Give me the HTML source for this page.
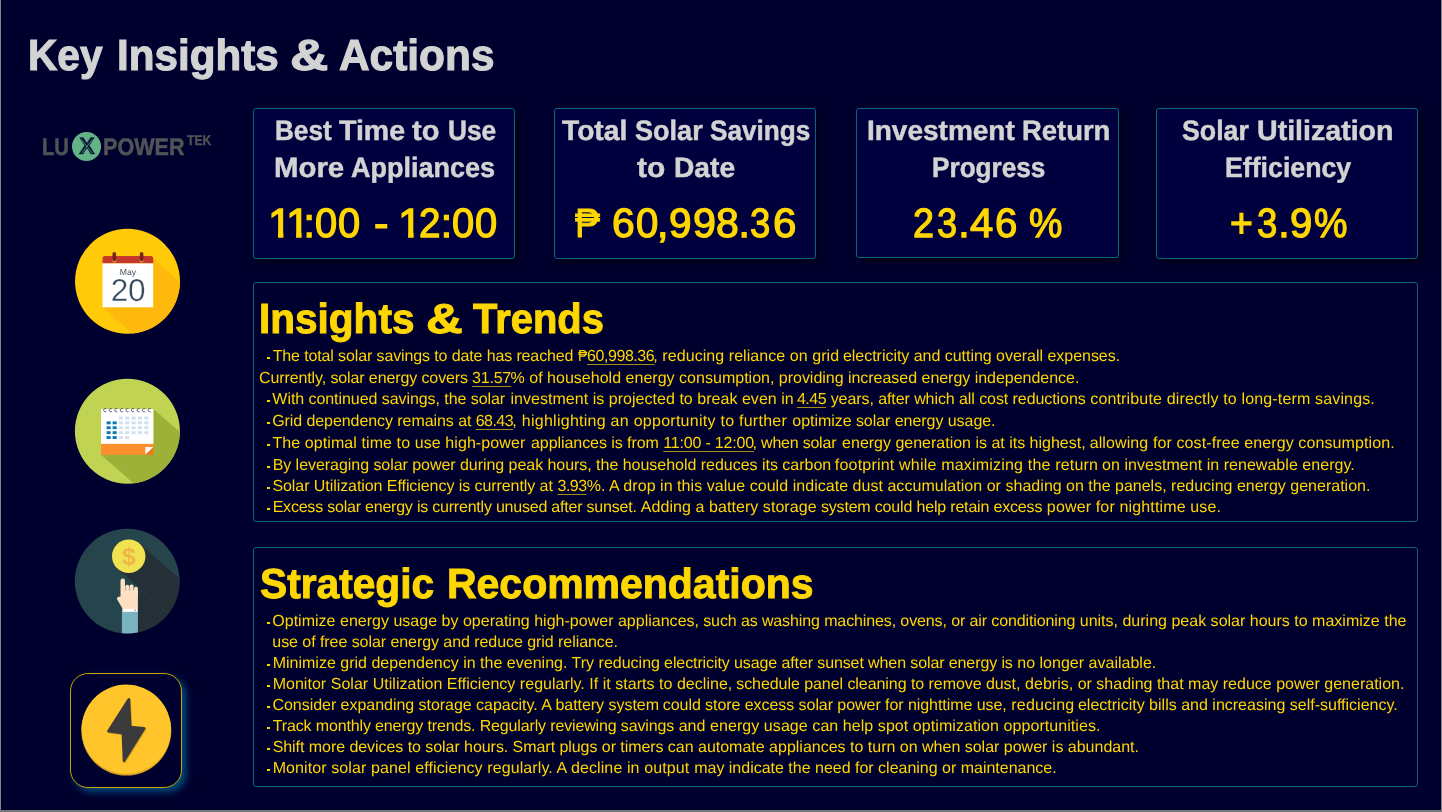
<!DOCTYPE html>
<html lang="en"><head><meta charset="utf-8"><title>Key Insights &amp; Actions</title>
<style>
html,body{margin:0;padding:0}
body{width:1442px;height:812px;overflow:hidden;background:#00002e;position:relative;font-family:"Liberation Sans","DejaVu Sans",sans-serif;text-rendering:geometricPrecision}
.edge{position:absolute;background:#848484}
.card{position:absolute;top:108px;box-sizing:border-box;border:1px solid #066877;border-radius:3px;background:#00003e;box-shadow:4px 4px 7px rgba(0,0,0,.5)}
.panel{position:absolute;left:253px;width:1165px;box-sizing:border-box;border:1px solid #066877;border-radius:3px;background:#00002e}
.t{position:absolute;left:0;margin:0;white-space:pre;font-weight:400}
.w span,.w u{position:absolute;top:0;transform-origin:0 0}
.t u{text-decoration:underline;text-decoration-color:#a68c16;text-decoration-thickness:1px;text-underline-offset:3px;text-decoration-skip-ink:none}
.lc{position:absolute;left:72.3px;top:131.8px;width:29.1px;height:29.1px;border-radius:50%;background:#62b487}
.b{position:absolute;width:3px;height:2px;background:#ffd700;left:267px}
svg{position:absolute;left:0;top:0;overflow:visible}
.ibox{position:absolute;left:70px;top:673px;width:112px;height:115px;box-sizing:border-box;border:1px solid #c9a300;border-radius:18px;background:#00002e;box-shadow:4px 4px 7px rgba(0,125,175,.6)}
.one{clip-path:polygon(0 0,14.67px 0,14.67px 100%,9.46px 100%,9.46px 70%,0 70%);}
.f0{font-size:43.5px;line-height:51px;color:#d3d3d3;font-weight:700;-webkit-text-stroke:1.1px #d3d3d3;}
.f1{font-size:28.05px;line-height:33px;color:#d3d3d3;font-weight:700;-webkit-text-stroke:0.5px #d3d3d3;}
.f2{font-size:40.8px;line-height:47px;color:#ffd700;-webkit-text-stroke:1.3px #ffd700;}
.f3{font-size:42px;line-height:49px;color:#ffd700;font-weight:700;-webkit-text-stroke:1px #ffd700;}
.f4{font-size:16px;line-height:19px;color:#ffd700;}
.f5{font-size:24px;line-height:28px;color:#505456;font-weight:700;-webkit-text-stroke:0.5px #505456;}
.f6{font-size:23.6px;line-height:28px;color:#0b1236;font-weight:700;-webkit-text-stroke:0.5px #0b1236;}
.f7{font-size:14.1px;line-height:17px;color:#505456;font-weight:700;-webkit-text-stroke:0.3px #505456;}
</style></head>
<body>
<div class="edge" style="left:0;top:0;width:1px;height:812px"></div>
<div class="edge" style="left:1441px;top:0;width:1px;height:812px"></div>
<div class="edge" style="left:0;top:810px;width:1442px;height:2px;background:linear-gradient(#808080,#707070)"></div>
<h1 class="t w f0" style="top:30px;transform:translateY(0.5px)"><span style="left:28.4px;transform:scaleX(0.9348)">Key</span> <span style="left:116.63px;transform:scaleX(0.9702)">Insights</span> <span style="left:290.13px;transform:scaleX(1.2193)">&amp;</span> <span style="left:339.46px;transform:scaleX(0.9748)">Actions</span></h1>
<div class="card" style="left:253px;width:262px;height:151px"></div>
<div class="card" style="left:554px;width:262px;height:151px"></div>
<div class="card" style="left:856px;width:263px;height:150px"></div>
<div class="card" style="left:1156px;width:262px;height:151px"></div>
<div class="t w f1" style="top:114px"><span style="left:274.86px;transform:scaleX(0.9314)">Best</span> <span style="left:339px;transform:scaleX(1.0162)">Time</span> <span style="left:412.3px;transform:scaleX(1.0365)">to</span> <span style="left:447.86px;transform:scaleX(0.9352)">Use</span></div>
<div class="t w f1" style="top:151px"><span style="left:274.42px;transform:scaleX(1.047)">More</span> <span style="left:351.25px;transform:scaleX(0.9622)">Appliances</span></div>
<div class="t w f2" style="top:200px"><span class="one" style="left:268.35px;transform:scaleX(1.0574)">1</span><span class="one" style="left:285.61px;transform:scaleX(1.0665)">1</span><span style="left:303.5px">:</span><span style="left:315.1px;transform:scaleX(0.9764)">0</span><span style="left:338.1px;transform:scaleX(0.9764)">0</span> <span style="left:374.11px;transform:scaleX(1.0665)">-</span> <span class="one" style="left:398.39px;transform:scaleX(1.066)">1</span><span style="left:418.72px;transform:scaleX(0.9459)">2</span><span style="left:440.72px">:</span><span style="left:452.1px;transform:scaleX(0.9764)">0</span><span style="left:475.1px;transform:scaleX(0.9764)">0</span></div>
<div class="t w f1" style="top:114px"><span style="left:561.6px;transform:scaleX(1.0054)">Total</span> <span style="left:634.97px;transform:scaleX(0.9652)">Solar</span> <span style="left:710.11px;transform:scaleX(0.9335)">Savings</span></div>
<div class="t w f1" style="top:151px"><span style="left:637.09px;transform:scaleX(1.0668)">to</span> <span style="left:674.01px;transform:scaleX(1.0051)">Date</span></div>
<div class="t w f2" style="top:200px"><span style="left:575px;transform:scaleX(0.9205);-webkit-text-stroke-width:0.9px">₱</span> <span style="left:612.41px;transform:scaleX(1.0016)">6</span><span style="left:635.69px;transform:scaleX(0.9843)">0</span><span style="left:657.01px">,</span><span style="left:669.01px;transform:scaleX(0.9924)">9</span><span style="left:692.64px;transform:scaleX(1.0108)">9</span><span style="left:716px;transform:scaleX(1.0015)">8</span><span style="left:738.54px">.</span><span style="left:750.13px;transform:scaleX(0.8934)">3</span><span style="left:773.28px;transform:scaleX(1.0312)">6</span></div>
<div class="t w f1" style="top:114px"><span style="left:866.54px;transform:scaleX(0.9979)">Investment</span> <span style="left:1022.48px;transform:scaleX(0.9778)">Return</span></div>
<div class="t w f1" style="top:151px"><span style="left:931.64px;transform:scaleX(0.9328)">Progress</span></div>
<div class="t w f2" style="top:200px"><span style="left:913.43px;transform:scaleX(0.9241)">2</span><span style="left:937.29px;transform:scaleX(0.8861)">3</span><span style="left:958.24px">.</span><span style="left:969.71px;transform:scaleX(1.0257)">4</span><span style="left:994.61px;transform:scaleX(0.9855)">6</span> <span style="left:1029.18px;transform:scaleX(0.9198)">%</span></div>
<div class="t w f1" style="top:114px"><span style="left:1182.2px;transform:scaleX(0.9528)">Solar</span> <span style="left:1257.3px;transform:scaleX(1.019)">Utilization</span></div>
<div class="t w f1" style="top:151px"><span style="left:1225.08px;transform:scaleX(0.9523)">Efficiency</span></div>
<div class="t w f2" style="top:200px"><span style="left:1229.93px;transform:scaleX(0.9579)">+</span><span style="left:1257.49px;transform:scaleX(0.8945)">3</span><span style="left:1278.37px">.</span><span style="left:1290.33px;transform:scaleX(0.9803)">9</span><span style="left:1313.7px;transform:scaleX(0.9219)">%</span></div>
<div class="panel" style="top:282px;height:240px"></div>
<div class="panel" style="top:547px;height:240px"></div>
<h2 class="t w f3" style="top:293px;transform:translateY(0.5px)"><span style="left:258.86px;transform:scaleX(0.9654)">Insights</span> <span style="left:425.92px;transform:scaleX(1.2116)">&amp;</span> <span style="left:473.1px;transform:scaleX(0.9503)">Trends</span></h2>
<i class="b" style="top:357px"></i>
<p class="t w f4" style="top:347px"><span style="left:272.65px;letter-spacing:-0.122px">The total solar savings to date has reached</span> <span style="left:578.17px;transform:scaleX(0.8762)">₱</span><u style="left:587.11px;letter-spacing:-0.446px">60,998.36</u><span style="left:653.37px;letter-spacing:0.061px">, reducing reliance on grid</span> <span style="left:842.94px;letter-spacing:-0.029px">electricity and cutting overall expenses.</span></p>
<p class="t w f4" style="top:369px"><span style="left:259px;letter-spacing:-0.11px">Currently, solar energy covers</span> <u style="left:472.03px;letter-spacing:-0.206px">31.57</u><span style="left:510.54px;letter-spacing:0.02px">% of household energy consumption,</span> <span style="left:778.84px;letter-spacing:-0.026px">providing increased energy independence.</span></p>
<i class="b" style="top:400px"></i>
<p class="t w f4" style="top:390px"><span style="left:272.37px;letter-spacing:-0.062px">With continued savings, the solar</span> <span style="left:510.52px;letter-spacing:0.033px">investment is projected to break even in</span> <u style="left:796.88px;letter-spacing:-0.459px">4.45</u> <span style="left:830.66px;letter-spacing:-0.076px">years, after which all cost reductions</span> <span style="left:1090.25px;letter-spacing:0.155px">contribute directly to long-term savings.</span></p>
<i class="b" style="top:422px"></i>
<p class="t w f4" style="top:412px"><span style="left:272.14px;letter-spacing:-0.067px">Grid dependency remains at</span> <u style="left:475.65px;letter-spacing:-0.514px">68.43</u><span style="left:512.37px;letter-spacing:0.264px">, highlighting an opportunity to further</span> <span style="left:792.35px;letter-spacing:-0.05px">optimize solar energy usage.</span></p>
<i class="b" style="top:444px"></i>
<p class="t w f4" style="top:434px"><span style="left:272.4px;letter-spacing:0.089px">The optimal time to use high-power</span> <span style="left:530.99px;letter-spacing:-0.064px">appliances is from</span> <u style="left:663.25px;letter-spacing:-0.191px">11:00 - 12:00</u><span style="left:752.59px;letter-spacing:-0.216px">, when solar</span> <span style="left:842.12px;letter-spacing:-0.006px">energy generation is at its highest,</span> <span style="left:1089.65px;letter-spacing:0.109px">allowing for cost-free energy consumption.</span></p>
<i class="b" style="top:466px"></i>
<p class="t w f4" style="top:456px"><span style="left:272.65px;letter-spacing:-0.046px">By leveraging solar power during peak hours,</span> <span style="left:596.09px;letter-spacing:-0.019px">the household reduces its carbon</span> <span style="left:834.82px;letter-spacing:0.197px">footprint while maximizing the return</span> <span style="left:1102.03px;letter-spacing:0.04px">on investment in renewable energy.</span></p>
<i class="b" style="top:487px"></i>
<p class="t w f4" style="top:477px"><span style="left:272.45px;letter-spacing:-0.068px">Solar Utilization Efficiency is currently at</span> <u style="left:557.51px;letter-spacing:-0.511px">3.93</u><span style="left:586.67px;letter-spacing:0.047px">%. A drop in this value could indicate</span> <span style="left:852.56px;letter-spacing:0.039px">dust accumulation or shading</span> <span style="left:1066.08px;letter-spacing:0.002px">on the panels, reducing energy generation.</span></p>
<i class="b" style="top:508px"></i>
<p class="t w f4" style="top:498px"><span style="left:272.65px;letter-spacing:-0.213px">Excess solar energy is currently unused after sunset.</span> <span style="left:640.85px;letter-spacing:0.06px">Adding a battery storage</span> <span style="left:820.91px;letter-spacing:-0.176px">system could help retain excess</span> <span style="left:1046.87px;letter-spacing:0.147px">power for nighttime use.</span></p>
<h2 class="t w f3" style="top:558px;transform:translateY(0.5px)"><span style="left:260.17px;transform:scaleX(0.9686)">Strategic</span> <span style="left:446.93px;transform:scaleX(0.9754)">Recommendations</span></h2>
<i class="b" style="top:622px"></i>
<p class="t w f4" style="top:612px"><span style="left:272.3px;letter-spacing:0.012px">Optimize energy usage by operating high-power appliances,</span> <span style="left:703.21px;letter-spacing:-0.113px">such as washing machines, ovens, or air conditioning</span> <span style="left:1079.72px;letter-spacing:0.008px">units, during peak solar hours to maximize the</span></p>
<p class="t f4" style="left:272.31px;top:633px;letter-spacing:-0.059px">use of free solar energy and reduce grid reliance.</p>
<i class="b" style="top:664px"></i>
<p class="t w f4" style="top:654px"><span style="left:272.65px;letter-spacing:0.009px">Minimize grid dependency in the evening. Try reducing</span> <span style="left:664.12px;letter-spacing:-0.104px">electricity usage after sunset when solar energy is</span> <span style="left:1017.25px;letter-spacing:0.013px">no longer available.</span></p>
<i class="b" style="top:685px"></i>
<p class="t w f4" style="top:675px"><span style="left:272.65px;letter-spacing:0.032px">Monitor Solar Utilization Efficiency regularly. If it starts to decline,</span> <span style="left:736.19px;letter-spacing:-0.058px">schedule panel cleaning to remove dust,</span> <span style="left:1025.12px;letter-spacing:0.008px">debris, or shading that may reduce power generation.</span></p>
<i class="b" style="top:706px"></i>
<p class="t w f4" style="top:696px"><span style="left:272.45px;letter-spacing:-0.035px">Consider expanding storage capacity. A battery system</span> <span style="left:662.78px;letter-spacing:-0.059px">could store excess solar power for nighttime use,</span> <span style="left:1011.35px;letter-spacing:0.201px">reducing</span> <span style="left:1077.94px;letter-spacing:0.005px">electricity bills and increasing self-sufficiency.</span></p>
<i class="b" style="top:727px"></i>
<p class="t w f4" style="top:717px"><span style="left:272.8px;letter-spacing:-0.145px">Track monthly energy trends. Regularly reviewing savings</span> <span style="left:678.65px;letter-spacing:0.066px">and energy usage can help spot optimization opportunities.</span></p>
<i class="b" style="top:748px"></i>
<p class="t w f4" style="top:738px"><span style="left:272.63px;letter-spacing:-0.054px">Shift more devices to solar hours. Smart plugs or timers</span> <span style="left:667.75px;letter-spacing:-0.003px">can automate appliances to turn on when solar power is abundant.</span></p>
<i class="b" style="top:769px"></i>
<p class="t w f4" style="top:759px"><span style="left:272.65px;letter-spacing:0.103px">Monitor solar panel efficiency regularly. A decline in output</span> <span style="left:694.2px;letter-spacing:-0.008px">may indicate the need for cleaning or maintenance.</span></p>
<div class="lc"></div>
<div class="t w f5" style="top:134px"><span style="left:42.43px;transform:scaleX(0.8419)">LU</span></div>
<div class="t w f6" style="top:133px"><span style="left:78.79px;transform:scaleX(1.0068)">X</span></div>
<div class="t w f5" style="top:134px"><span style="left:102.85px;transform:scaleX(0.8994)">POWER</span></div>
<div class="t w f7" style="top:132px"><span style="left:186.64px;transform:scaleX(0.8659)">TEK</span></div>
<div class="ibox"></div>
<svg width="1442" height="812" viewBox="0 0 1442 812" font-family="'Liberation Sans',sans-serif">
<defs>
<clipPath id="k1"><circle cx="127.5" cy="281.3" r="52.5"/></clipPath>
<clipPath id="k2"><circle cx="127.4" cy="431.15" r="52.5"/></clipPath>
<clipPath id="k3"><circle cx="127.2" cy="581.2" r="52.4"/></clipPath>
</defs>
<path d="M81.6 139.6 L92.2 153.2 M92.2 139.6 L81.6 153.2" stroke="#62b487" stroke-width="0.7" fill="none"/>
<!-- icon 1: date calendar -->
<g id="ic1">
<circle cx="127.5" cy="281.3" r="52.5" fill="#ffca08"/>
<g clip-path="url(#k1)">
<polygon points="153.2,258.5 253.2,346.5 202.5,395.3 102.5,307.3" fill="#ffb80c"/>
</g>
<path d="M102.5 263.6 V258.5 a2.5 2.5 0 0 1 2.5 -2.5 H150.7 a2.5 2.5 0 0 1 2.5 2.5 V263.6 Z" fill="#c5392c"/>
<rect x="102.5" y="263.4" width="50.7" height="43.9" fill="#ffffff"/>
<circle cx="114.3" cy="260.6" r="1.9" fill="#f3b52a"/>
<circle cx="141.6" cy="260.6" r="1.9" fill="#f3b52a"/>
<rect x="112.5" y="252" width="3.6" height="9.4" rx="1.8" fill="#7a2419"/>
<rect x="139.8" y="252" width="3.6" height="9.4" rx="1.8" fill="#7a2419"/>
<text x="127.9" y="274.8" font-size="8.6" fill="#3d5166" text-anchor="middle">May</text>
<text x="128" y="301.4" font-size="31.6" fill="#34495e" stroke="#ffffff" stroke-width="0.35" text-anchor="middle" letter-spacing="-0.3">20</text>
</g>
<!-- icon 2: month calendar -->
<g id="ic2">
<circle cx="127.4" cy="431.15" r="52.5" fill="#c0d353"/>
<g clip-path="url(#k2)">
<polygon points="153.45,409 253.45,497 201,542.8 101,454.8" fill="#9db138"/>
</g>
<rect x="101" y="409" width="52.45" height="35" fill="#ffffff"/>
<rect x="101" y="443.85" width="52.45" height="10.95" fill="#ff8f2d"/>
<polygon points="153.45,447 153.45,454.8 145.4,454.8" fill="#e47c1c"/>
<polygon points="145.4,447 153.2,447 145.4,454.6" fill="#ffffff"/>
<g fill="none" stroke="#3a4a5c" stroke-width="0.9" stroke-linecap="round">
<path d="M105.9 408.6a1.7 1.7 0 1 0 0 3.2"/><path d="M111.4 408.6a1.7 1.7 0 1 0 0 3.2"/><path d="M117 408.6a1.7 1.7 0 1 0 0 3.2"/><path d="M122.5 408.6a1.7 1.7 0 1 0 0 3.2"/><path d="M128.1 408.6a1.7 1.7 0 1 0 0 3.2"/><path d="M133.6 408.6a1.7 1.7 0 1 0 0 3.2"/><path d="M139.2 408.6a1.7 1.7 0 1 0 0 3.2"/><path d="M144.7 408.6a1.7 1.7 0 1 0 0 3.2"/><path d="M150.3 408.6a1.7 1.7 0 1 0 0 3.2"/>
</g>
<g fill="#cfe1f1">
<rect x="118.9" y="416.6" width="4.1" height="2.9"/><rect x="125.2" y="416.6" width="4.1" height="2.9"/><rect x="131.5" y="416.6" width="4.1" height="2.9"/><rect x="137.8" y="416.6" width="4.1" height="2.9"/><rect x="144.3" y="416.6" width="4.1" height="2.9"/>
<rect x="118.9" y="421.4" width="4.1" height="2.9"/><rect x="125.2" y="421.4" width="4.1" height="2.9"/><rect x="131.5" y="421.4" width="4.1" height="2.9"/><rect x="137.8" y="421.4" width="4.1" height="2.9"/><rect x="144.3" y="421.4" width="4.1" height="2.9"/>
<rect x="118.9" y="426.3" width="4.1" height="2.9"/><rect x="125.2" y="426.3" width="4.1" height="2.9"/><rect x="131.5" y="426.3" width="4.1" height="2.9"/><rect x="137.8" y="426.3" width="4.1" height="2.9"/><rect x="144.3" y="426.3" width="4.1" height="2.9"/>
<rect x="118.9" y="431.2" width="4.1" height="2.9"/><rect x="125.2" y="431.2" width="4.1" height="2.9"/><rect x="131.5" y="431.2" width="4.1" height="2.9"/><rect x="137.8" y="431.2" width="4.1" height="2.9"/><rect x="144.3" y="431.2" width="4.1" height="2.9"/>
<rect x="118.9" y="436.1" width="4.1" height="2.9"/><rect x="125.2" y="436.1" width="4.1" height="2.9"/>
</g>
<g fill="#0b7bb5">
<rect x="106.6" y="421.4" width="4.1" height="2.9"/><rect x="112.6" y="421.4" width="4.1" height="2.9"/>
<rect x="106.6" y="426.3" width="4.1" height="2.9"/><rect x="112.6" y="426.3" width="4.1" height="2.9"/>
<rect x="106.6" y="431.2" width="4.1" height="2.9"/><rect x="112.6" y="431.2" width="4.1" height="2.9"/>
<rect x="106.6" y="436.1" width="4.1" height="2.9"/><rect x="112.6" y="436.1" width="4.1" height="2.9"/>
</g>
</g>
<!-- icon 3: coin + hand -->
<g id="ic3">
<circle cx="127.2" cy="581.2" r="52.4" fill="#26444c"/>
<g clip-path="url(#k3)">
<polygon points="139.7,543.7 239.7,631.7 217.7,656.8 117.7,568.8" fill="#242f36"/>
<polygon points="137.9,587.3 237.9,675.3 137.9,675.3" fill="#242f36"/>
<rect x="121.9" y="611.5" width="16" height="26" fill="#7ab2c0"/>
</g>
<circle cx="128.7" cy="556.25" r="16.7" fill="#f0e250"/>
<text x="128.7" y="565.3" font-size="24.5" font-weight="700" fill="#f0b545" text-anchor="middle">$</text>
<g fill="#fde0c4">
<rect x="120.5" y="578.6" width="4.5" height="22" rx="2.2"/>
<rect x="125.3" y="584.7" width="4" height="10" rx="1.9"/>
<rect x="129.6" y="584.5" width="4" height="10" rx="1.9"/>
<rect x="134" y="586.8" width="3.9" height="10" rx="1.9"/>
<path d="M121.2 590.5 H137.9 V609 H122.6 Z"/>
<path d="M121.4 596.6 L118.6 596.8 Q116.3 597.4 117.2 599.6 L122.8 609 H126 Z"/>
</g>
<rect x="122.4" y="608.9" width="15.3" height="3" fill="#ffffff"/>
<circle cx="135" cy="610.3" r="0.8" fill="#e15554"/>
</g>
<!-- icon 4: lightning coin -->
<g id="ic4">
<circle cx="126.3" cy="730.6" r="45" fill="#d9a421"/>
<circle cx="126.3" cy="729.3" r="44.7" fill="#ffc52a"/>
<polygon points="129.7,700.1 131.1,727.8 145,729.2 124.8,761.7 123.7,734.1 109.2,732.1" fill="#e0a61c" stroke="#e0a61c" stroke-width="2.6" stroke-linejoin="round"/>
<polygon points="128.9,699.3 130.3,727 144.2,728.4 124,760.9 122.9,733.3 108.4,731.3" fill="#3b3b3b" stroke="#3b3b3b" stroke-width="2.6" stroke-linejoin="round"/>
</g>
</svg>

</body></html>
